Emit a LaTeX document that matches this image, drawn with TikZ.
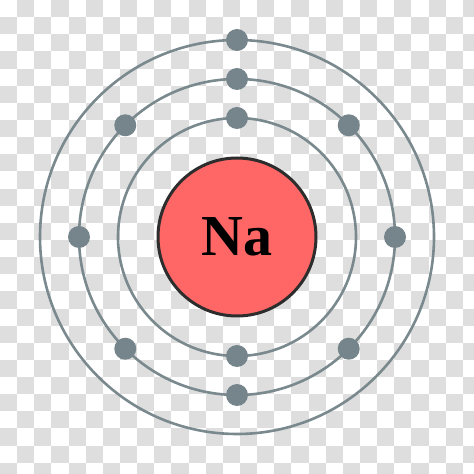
\documentclass[tikz,border=0pt]{standalone}
\usepackage{fontspec}
\setmainfont{Liberation Serif}
\usetikzlibrary{calc}
\definecolor{checkgray}{RGB}{222,222,222}
\definecolor{orbitcol}{RGB}{122,137,142}
\definecolor{eleccol}{RGB}{118,133,140}
\definecolor{nucfill}{RGB}{255,102,102}
\definecolor{nucline}{RGB}{45,45,45}
\tikzset{
  orbit/.style={draw=orbitcol, line width=2.6pt},
  electron/.style={circle, fill=eleccol, draw=none, minimum size=22pt, inner sep=0pt},
  nucleus/.style={circle, fill=nucfill, draw=nucline, line width=3pt, minimum size=158pt, inner sep=0pt, font=\fontsize{58}{60}\selectfont\bfseries}
}
\begin{document}
\begin{tikzpicture}[x=1pt,y=1pt]
\useasboundingbox (0,0) rectangle (474,474);
\fill[white] (0,0) rectangle (474,474);
\begin{scope}
\clip (0,0) rectangle (474,474);
\foreach \i in {0,...,27}{
  \foreach \j in {0,...,27}{
    \pgfmathtruncatemacro{\parity}{mod(\i+\j,2)}
    \ifnum\parity=1
      \fill[checkgray] ({\i*17.14},{474-(\j+1)*17.14}) rectangle ({(\i+1)*17.14},{474-\j*17.14});
    \fi
  }
}
\end{scope}
\coordinate (c) at (237,237);
\draw[orbit] (c) circle (119);
\draw[orbit] (c) circle (158);
\draw[orbit] (c) circle (197);
\node[nucleus] (nuc) at (c) {Na};
% inner shell
\node[electron] (e1a) at ($(c)+(90:119)$) {};
\node[electron] (e1b) at ($(c)+(270:119)$) {};
% middle shell
\foreach \a/\n in {0/m0,45/m1,90/m2,135/m3,180/m4,225/m5,270/m6,315/m7}{
  \node[electron] (\n) at ($(c)+(\a:158)$) {};
}
% outer shell
\node[electron] (o1) at ($(c)+(90:197)$) {};
\end{tikzpicture}
\end{document}
